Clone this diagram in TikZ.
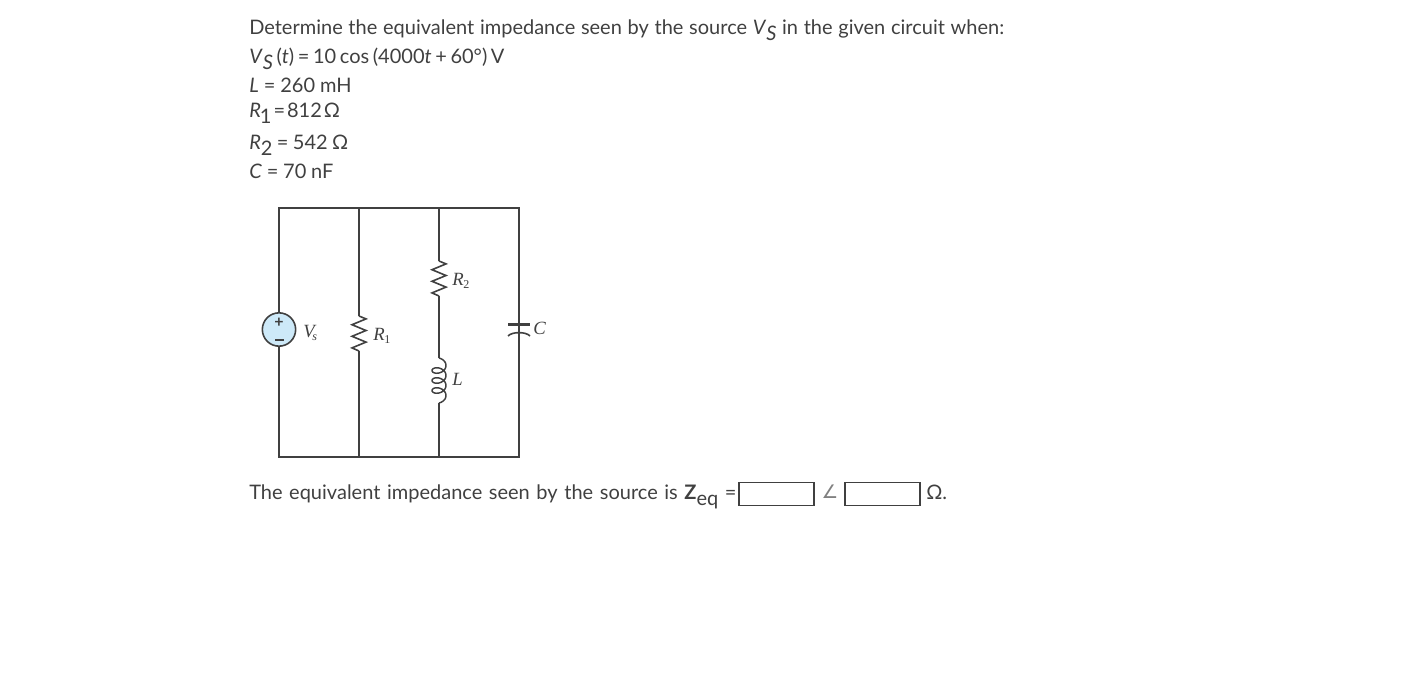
\documentclass[tikz,border=0pt]{standalone}
\usepackage{fontspec}
\setmainfont{Lato}
\newfontfamily\circfont{Liberation Serif}
\newfontfamily\symfont{DejaVu Sans}
\definecolor{txt}{HTML}{404040}
\definecolor{wire}{HTML}{404040}
\definecolor{srcfill}{HTML}{CDE9F8}
\newcommand{\lowsub}[1]{\raisebox{-0.3em}{#1}}
\newcommand{\wsp}[1]{\spaceskip=#1em plus 0em minus 0em\relax}
\tikzset{
  qtext/.style={anchor=base west,inner sep=0pt,text=txt,font=\fontsize{15pt}{17pt}\selectfont},
  wirestyle/.style={draw=wire,line width=1.25pt,line join=miter},
  partstyle/.style={draw=wire,line width=1.2pt,line join=miter},
  clabel/.style={anchor=base west,inner sep=0pt,text=wire,font=\circfont\itshape\fontsize{14pt}{15pt}\selectfont},
  csub/.style={anchor=base west,inner sep=0pt,text=wire,font=\circfont\fontsize{9pt}{10pt}\selectfont},
  ansbox/.style={draw=wire,line width=1.1pt,fill=white,minimum width=56.5pt,minimum height=17.5pt,inner sep=0pt,anchor=center}
}
\begin{document}
\begin{tikzpicture}[x=0.75pt,y=-0.75pt]
\useasboundingbox (0,0) rectangle (1416,672);
% problem text
\node[qtext] (t1) at (249,34) {\wsp{0.285}Determine the equivalent impedance seen by the source \textit{V}\lowsub{\textit{S}} in the given circuit when:};
\node[qtext] (t2) at (249,63) {\wsp{0.18}\textit{V}\lowsub{\textit{S}} (\textit{t}) = 10 cos (4000\textit{t} + 60°) V};
\node[qtext] (t3) at (249,92) {\wsp{0.25}\textit{L} = 260 mH};
\node[qtext] (t4) at (249,117) {\wsp{0.1}\textit{R}\kern-0.05em\lowsub{1} = 812 Ω};
\node[qtext] (t5) at (249,149) {\wsp{0.22}\textit{R}\lowsub{2} = 542 Ω};
\node[qtext] (t6) at (249,178) {\wsp{0.24}\textit{C} = 70 nF};
\node[qtext] (t7) at (249,499) {\wsp{0.33}The equivalent impedance seen by the source is \textbf{Z}\lowsub{eq} =};
% answer boxes
\node[ansbox] (b1) at (776.5,494) {};
\node[ansbox] (b2) at (882.5,494) {};
\node[anchor=center,inner sep=0pt,text=gray,font=\symfont\fontsize{14pt}{16pt}\selectfont] (ang) at (830,492) {∠};
\node[qtext] (om) at (926,499) {Ω.};
% junctions
\coordinate (a1) at (279,208);
\coordinate (a2) at (359,208);
\coordinate (a3) at (439,208);
\coordinate (a4) at (519,208);
\coordinate (z1) at (279,457);
\coordinate (z2) at (359,457);
\coordinate (z3) at (439,457);
\coordinate (z4) at (519,457);
% frame
\draw[wirestyle] (a1) -- (a4) -- (z4) -- (z1) -- cycle;
% source
\node[circle,draw=wire,line width=1.2pt,fill=srcfill,minimum size=25pt,inner sep=0pt] (vs) at (279,329.5) {};
\draw[wirestyle] (a1) -- (vs.north);
\draw[wirestyle] (vs.south) -- (z1);
\node[inner sep=0pt,text=wire,font=\bfseries\fontsize{12pt}{14pt}\selectfont] (vplus) at (279,322.5) {+};
\coordinate (vm1) at (275,340);
\coordinate (vm2) at (283.5,340);
\draw[draw=wire,line width=0.8pt] (vm1) -- (vm2);
\node[clabel] (vl) at (303,337) {V};
\node[csub,font=\circfont\itshape\fontsize{9pt}{10pt}\selectfont] (vls) at (312,340) {s};
% R1
\coordinate (r1t) at (359,316);
\coordinate (r1b) at (359,351);
\draw[wirestyle] (a2) -- (r1t);
\draw[wirestyle] (r1b) -- (z2);
\draw[partstyle] (r1t) -- ++(7,2.9) -- ++(-14,5.8) -- ++(14,5.8) -- ++(-14,5.8) -- ++(14,5.8) -- ++(-14,5.8) -- (r1b);
\node[clabel] (r1l) at (373,340) {R};
\node[csub] (r1s) at (384,343) {1};
% R2
\coordinate (r2t) at (439,261);
\coordinate (r2b) at (439,296);
\draw[wirestyle] (a3) -- (r2t);
\draw[partstyle] (r2t) -- ++(7,2.9) -- ++(-14,5.8) -- ++(14,5.8) -- ++(-14,5.8) -- ++(14,5.8) -- ++(-14,5.8) -- (r2b);
\node[clabel] (r2l) at (452,285) {R};
\node[csub] (r2s) at (463,288) {2};
% L
\coordinate (lt) at (439,358);
\coordinate (lb) at (439,403);
\draw[wirestyle] (r2b) -- (lt);
\draw[wirestyle] (lb) -- (z3);
\draw[partstyle,line width=1.1pt] plot[smooth,domain=-90:1170,samples=90,variable=\t] ({439+7*cos(\t)},{363+(\t+90)/36+5*sin(\t)});
\node[clabel] (ll) at (452,385) {L};
% C
\coordinate (ct) at (519,324.5);
\coordinate (cb) at (519,332);
\draw[wirestyle] (a4) -- (ct);
\draw[wirestyle] (cb) -- (z4);
\draw[draw=wire,line width=1.8pt] (508,324.5) -- (530,324.5);
\draw[draw=wire,line width=1.2pt] (508,336) .. controls (512,331.5) and (526,331.5) .. (530,336);
\node[clabel] (cl) at (533,334) {C};
\end{tikzpicture}
\end{document}
